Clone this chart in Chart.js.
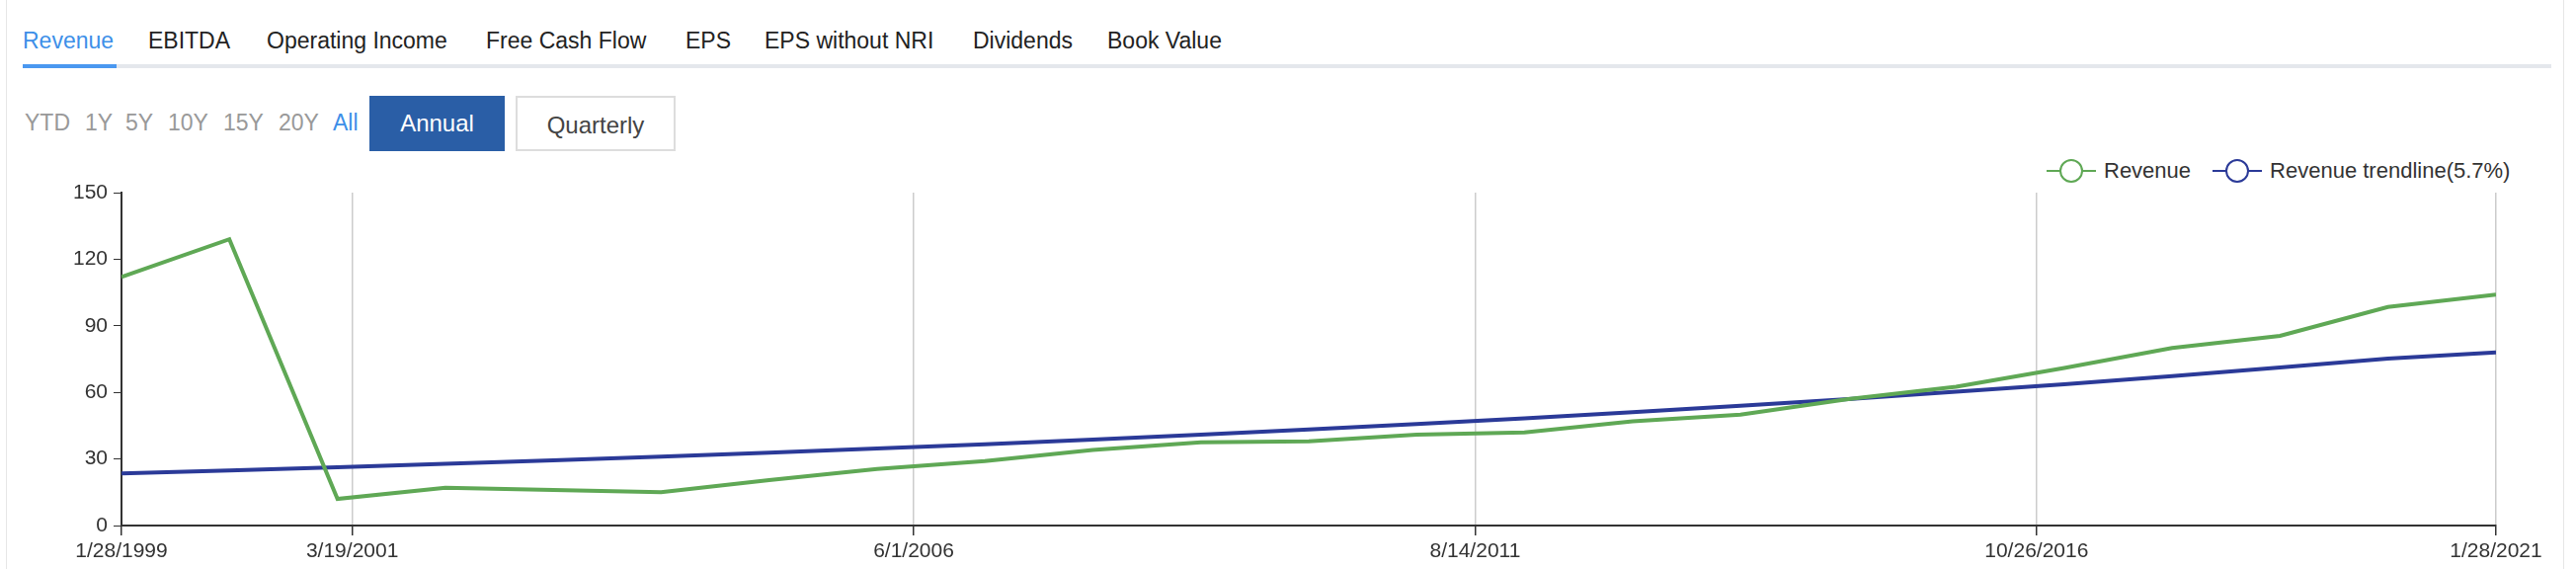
<!DOCTYPE html>
<html>
<head>
<meta charset="utf-8">
<script src="https://cdn.jsdelivr.net/npm/chart.js@4"></script>
<style>
  body { margin: 0; background: #fff; font-family: "Liberation Sans", Arial, sans-serif; }
  #wrap { position: relative; width: 2608px; height: 576px; overflow: hidden; }
  .card { position: absolute; left: 6px; top: -10px; width: 2588px; height: 600px; border: 1px solid #e6e6e6; border-radius: 8px; }
  .tab { position: absolute; top: 28px; font-size: 23px; color: #222; }
  .tab.on { color: #3d8fe8; }
  .tabline { position: absolute; left: 23px; top: 65px; width: 2560px; height: 4px; background: #e4e7ec; }
  .tabsel { position: absolute; left: 23px; top: 65px; width: 95px; height: 4px; background: #4a98f0; }
  .rng { position: absolute; top: 111px; font-size: 23px; color: #999; }
  .btn { position: absolute; top: 97px; height: 56px; line-height: 56px; text-align: center; font-size: 24px; box-sizing: border-box; }
  .legend { position: absolute; top: 160px; font-size: 22px; color: #333; display: flex; align-items: center; }
  .sym { position: relative; width: 50px; height: 24px; margin-right: 8px; }
  .sym i { position: absolute; left: 0; top: 11px; width: 50px; height: 2px; }
  .sym b { position: absolute; left: 13px; top: 0; width: 20px; height: 20px; border-radius: 50%; background: #fff; border: 2px solid; }
  canvas { position: absolute; left: 0; top: 0; }
</style>
</head>
<body>
<div id="wrap">
  <div class="card"></div>
  <div class="tab on" style="left:23px">Revenue</div>
  <div class="tab" style="left:150px">EBITDA</div>
  <div class="tab" style="left:270px">Operating Income</div>
  <div class="tab" style="left:492px">Free Cash Flow</div>
  <div class="tab" style="left:694px">EPS</div>
  <div class="tab" style="left:774px">EPS without NRI</div>
  <div class="tab" style="left:985px">Dividends</div>
  <div class="tab" style="left:1121px">Book Value</div>
  <div class="tabline"></div><div class="tabsel"></div>
  <div class="rng" style="left:25px">YTD</div>
  <div class="rng" style="left:86px">1Y</div>
  <div class="rng" style="left:127px">5Y</div>
  <div class="rng" style="left:170px">10Y</div>
  <div class="rng" style="left:226px">15Y</div>
  <div class="rng" style="left:282px">20Y</div>
  <div class="rng" style="left:337px;color:#3d8fe8">All</div>
  <div class="btn" style="left:374px;width:137px;background:#2a5ea6;color:#fff">Annual</div>
  <div class="btn" style="left:522px;width:162px;border:2px solid #ddd;color:#444">Quarterly</div>
  <div class="legend" style="left:2072px">
    <span class="sym"><i style="background:#5fa855"></i><b style="border-color:#5fa855"></b></span>Revenue
    <span class="sym" style="margin-left:22px"><i style="background:#2b3a98"></i><b style="border-color:#2b3a98"></b></span>Revenue trendline(5.7%)
  </div>
  <canvas id="c" width="2608" height="576"></canvas>
</div>
<script>
const dates = ['1999-01-28','2000-01-28','2001-01-28','2002-01-28','2003-01-28','2004-01-28','2005-01-28','2006-01-28',
  '2007-01-28','2008-01-28','2009-01-28','2010-01-28','2011-01-28','2012-01-28','2013-01-28','2014-01-28',
  '2015-01-28','2016-01-28','2017-01-28','2018-01-28','2019-01-28','2020-01-28','2021-01-28'];
const revenue = [112, 129, 12, 17, 16, 15, 20.5, 25.5, 29, 34, 37.5, 38, 41, 42, 47, 50,
  57, 62.5, 71, 80, 85.5, 98.5, 104];
const trend = [23.5, 24.8, 26.3, 27.8, 29.4, 31, 32.8, 34.7, 36.6, 38.7, 40.9, 43.3, 45.7, 48.3, 51.1, 54,
  57, 60.3, 63.7, 67.3, 71.2, 75.2, 78];
const tickDates = ['1999-01-28','2001-03-19','2006-06-01','2011-08-14','2016-10-26','2021-01-28'];
const yTicks = [0, 30, 60, 90, 120, 150];

const ts = s => Date.parse(s + 'T00:00:00Z');
const fmt = v => { const d = new Date(v); return (d.getUTCMonth() + 1) + '/' + d.getUTCDate() + '/' + d.getUTCFullYear(); };

function series(vals) { return vals.map((v, i) => ({ x: ts(dates[i]), y: v })); }

new Chart(document.getElementById('c'), {
  type: 'line',
  data: {
    datasets: [
      { label: 'Revenue', data: series(revenue), borderColor: '#5fa855', borderWidth: 4, pointRadius: 0, tension: 0 },
      { label: 'Revenue trendline(5.7%)', data: series(trend), borderColor: '#2b3a98', borderWidth: 4, pointRadius: 0, tension: 0 }
    ]
  },
  options: {
    responsive: false,
    animation: false,
    layout: { padding: { top: 195, right: 81, left: 0, bottom: 0 } },
    plugins: { legend: { display: false }, tooltip: { enabled: false } },
    scales: {
      x: {
        type: 'linear',
        min: ts(tickDates[0]),
        max: ts(tickDates[tickDates.length - 1]),
        afterBuildTicks: s => { s.ticks = tickDates.map(d => ({ value: ts(d) })); },
        afterFit: s => { s.height = 44; },
        ticks: { callback: v => fmt(v), color: '#333', font: { size: 21, family: 'Liberation Sans' }, maxRotation: 0, padding: 4 },
        grid: { color: '#cccccc', lineWidth: 1.5, tickLength: 10, tickColor: '#333' },
        border: { color: '#333', width: 2 }
      },
      y: {
        min: 0, max: 150,
        afterBuildTicks: s => { s.ticks = yTicks.map(v => ({ value: v })); },
        afterFit: s => { s.width = 123; },
        ticks: { color: '#333', font: { size: 21, family: 'Liberation Sans' }, padding: 6 },
        grid: { drawOnChartArea: false, tickLength: 8, tickColor: '#333' },
        border: { color: '#333', width: 2 }
      }
    }
  }
});
</script>
</body>
</html>
